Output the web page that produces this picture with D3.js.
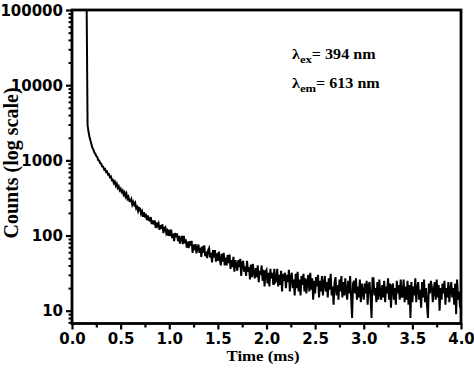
<!DOCTYPE html>
<html>
<head>
<meta charset="utf-8">
<script src="https://cdn.jsdelivr.net/npm/d3@7"></script>
<style>
  html, body { margin: 0; padding: 0; background: #fff; }
  svg { display: block; }
</style>
</head>
<body>
<svg id="chart" width="474" height="374"></svg>
<script>
// ---- data ----
const timeStart = 0.15;   // ms, first channel
const timeStep = 0.01;    // ms per channel
const countsRise = [150000, 2950, 2400, 2050, 1820, 1635, 1462, 1391, 1270, 1221, 1138, 1109, 1003, 992, 918];
const countsEarly = [
  905, 832, 826, 760, 771, 701, 712, 649, 658, 597,
  610, 545, 552, 498, 523, 461, 489, 430, 451, 401,
  421, 380, 398, 352, 375, 331, 360, 309, 327, 288,
  285, 305, 258, 280, 256, 272, 230, 240, 211, 233,
  228, 195, 209, 177, 204, 181, 187, 161, 185, 160,
  158, 176, 142, 159, 140, 159, 126, 149, 135, 145,
  119, 137, 123, 141, 108, 125, 129, 107, 115, 99
];
const countsMid = [
  120, 98, 120, 92, 106, 84, 108, 95, 107, 84,
  99, 78, 91, 99, 77, 99, 79, 89, 69, 83,
  68, 84, 73, 85, 59, 76, 64, 77, 58, 69,
  76, 59, 69, 52, 72, 59, 74, 53, 61, 50,
  64, 68, 51, 59, 44, 64, 51, 64, 45, 58,
  46, 61, 49, 40, 57, 45, 59, 40, 51, 40,
  55, 43, 56, 36, 47, 38, 52, 33, 47, 41,
  34, 47, 38, 49, 29, 43, 46, 33, 39, 29,
  46, 33, 38, 26, 41, 28, 42, 32, 27, 37,
  28, 40, 24, 34, 30, 40, 25, 35, 21, 33
];
const countsLate = [
  35, 23, 32, 21, 36, 27, 32, 22, 36, 24,
  25, 36, 21, 30, 22, 34, 18, 31, 25, 32,
  20, 30, 24, 35, 18, 28, 32, 20, 26, 16,
  31, 20, 33, 18, 26, 16, 29, 22, 31, 18,
  27, 17, 24, 30, 18, 32, 19, 27, 14, 25,
  17, 28, 21, 30, 15, 25, 18, 29, 16, 23,
  29, 18, 24, 15, 27, 19, 31, 16, 21, 12,
  24, 28, 16, 22, 14, 26, 18, 29, 15, 24,
  16, 27, 18, 14, 25, 17, 29, 15, 8, 23,
  25, 17, 27, 14, 21, 15, 26, 13, 23, 18
];
const countsTail = [
  14, 23, 17, 25, 12, 22, 24, 15, 8, 27,
  27, 16, 20, 13, 24, 14, 26, 17, 14, 22,
  15, 25, 13, 21, 17, 27, 14, 23, 11, 21,
  23, 14, 20, 12, 25, 17, 22, 14, 26, 15,
  16, 26, 13, 21, 14, 25, 12, 22, 8, 24,
  13, 21, 16, 27, 13, 20, 24, 14, 19, 11,
  24, 15, 26, 13, 20, 12, 8, 23, 17, 25,
  21, 13, 19, 24, 14, 26, 15, 22, 10, 20,
  14, 23, 17, 25, 12, 20, 15, 24, 13, 19,
  24, 15, 20, 12, 23, 9, 26, 14, 18, 11, 13
];
const xTickValues = [0, 0.5, 1.0, 1.5, 2.0, 2.5, 3.0, 3.5, 4.0];
const xMinorTicks = [0.25, 0.75, 1.25, 1.75, 2.25, 2.75, 3.25, 3.75];
const yTickValues = [10, 100, 1000, 10000, 100000];
const xLabel = "Time (ms)";
const yLabel = "Counts (log scale)";
const annotations = [
  { sym: "λ", sub: "ex", rest: "= 394 nm" },
  { sym: "λ", sub: "em", rest: "= 613 nm" }
];

// ---- build ----
const counts = countsRise.concat(countsEarly, countsMid, countsLate, countsTail);
const series = counts.map((c, i) => ({ t: timeStart + i * timeStep, c }));

const svg = d3.select("#chart");
const L = 72, R = 461, T = 10, B = 323.5;

const x = d3.scaleLinear().domain([0, 4]).range([L, R]);
const y = d3.scaleLog().domain([6.76, 100000]).range([B, T]);

// minor y ticks
const yMinor = [7, 8, 9];
for (let d = 10; d <= 10000; d *= 10) {
  for (let k = 2; k <= 9; k++) yMinor.push(k * d);
}
const yMinorTicks = yMinor.filter(v => v >= 6.76 && v <= 100000);

svg.append("defs").append("clipPath").attr("id", "clip")
  .append("rect").attr("x", L).attr("y", T).attr("width", R - L).attr("height", B - T);

// data line
const line = d3.line().x(d => x(d.t)).y(d => y(d.c));
svg.append("path")
  .datum(series)
  .attr("clip-path", "url(#clip)")
  .attr("fill", "none")
  .attr("stroke", "#000")
  .attr("stroke-width", 2)
  .attr("stroke-linejoin", "miter")
  .attr("d", line);

const tickFont = "'DejaVu Sans', sans-serif";

// x axis
const gx = svg.append("g").attr("transform", `translate(0,${B})`)
  .call(d3.axisBottom(x).tickValues(xTickValues).tickSize(6).tickPadding(4)
    .tickFormat(d3.format(".1f")));
gx.select(".domain").remove();
gx.selectAll(".tick line").attr("stroke-width", 2.2);
gx.selectAll(".tick text").attr("font-family", tickFont).attr("font-weight", "bold")
  .attr("font-size", 15).attr("fill", "#000");

const gxm = svg.append("g").attr("transform", `translate(0,${B})`)
  .call(d3.axisBottom(x).tickValues(xMinorTicks).tickSize(4).tickFormat(""));
gxm.select(".domain").remove();
gxm.selectAll(".tick line").attr("stroke-width", 2.2);

// y axis
const gy = svg.append("g").attr("transform", `translate(${L},0)`)
  .call(d3.axisLeft(y).tickValues(yTickValues).tickSize(6).tickPadding(3)
    .tickFormat(d3.format("d")));
gy.select(".domain").remove();
gy.selectAll(".tick line").attr("stroke-width", 2.2);
gy.selectAll(".tick text").attr("font-family", tickFont).attr("font-weight", "bold")
  .attr("font-size", 15).attr("fill", "#000").attr("dy", "0.34em");

const gym = svg.append("g").attr("transform", `translate(${L},0)`)
  .call(d3.axisLeft(y).tickValues(yMinorTicks).tickSize(3.5).tickFormat(""));
gym.select(".domain").remove();
gym.selectAll(".tick line").attr("stroke-width", 2);

// frame
svg.append("rect")
  .attr("x", L).attr("y", T).attr("width", R - L).attr("height", B - T)
  .attr("fill", "none").attr("stroke", "#000").attr("stroke-width", 2.8);

// axis titles
const serif = "'Liberation Serif', 'Times New Roman', serif";
svg.append("text")
  .attr("transform", `translate(263,361) scale(1.16,1)`)
  .attr("text-anchor", "middle")
  .attr("font-family", serif).attr("font-weight", "bold").attr("font-size", 14.5)
  .text(xLabel);

svg.append("text")
  .attr("transform", `translate(18,163) rotate(-90)`)
  .attr("text-anchor", "middle")
  .attr("font-family", serif).attr("font-weight", "bold").attr("font-size", 20)
  .text(yLabel);

// annotations
annotations.forEach((a, i) => {
  const t = svg.append("text")
    .attr("transform", `translate(292,${59 + i * 29}) scale(1.15,1)`)
    .attr("font-family", serif).attr("font-weight", "bold").attr("font-size", 14);
  t.append("tspan").text(a.sym);
  t.append("tspan").attr("font-size", 11).attr("dy", 4).text(a.sub);
  t.append("tspan").attr("dy", -4).text(a.rest);
});
</script>
</body>
</html>
